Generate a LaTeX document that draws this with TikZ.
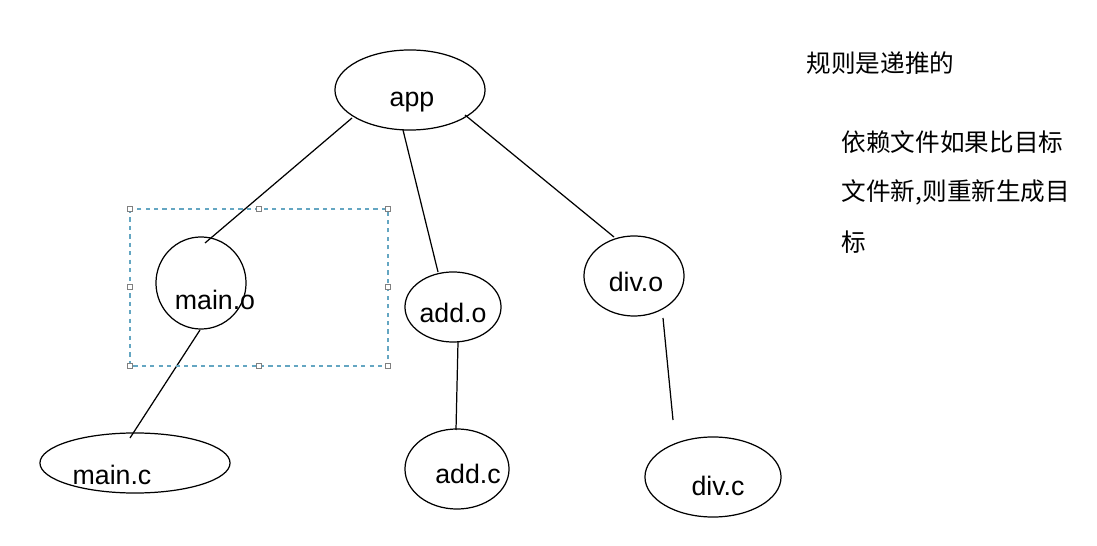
\documentclass[tikz,border=0pt]{standalone}
\usepackage{fontspec}
\setmainfont{Liberation Sans}
\newfontfamily\cjk{Noto Sans CJK SC}
\usetikzlibrary{shapes.geometric}
\begin{document}
\begin{tikzpicture}[x=0.01cm,y=-0.01cm,
  el/.style={draw,ellipse,inner sep=0pt,line width=0.35pt},
  lbl/.style={font=\fontsize{7.6}{9}\selectfont},
  cn/.style={font=\cjk\fontsize{7}{8}\selectfont,anchor=west,inner sep=0pt},
  hd/.style={draw=gray,fill=white,minimum size=1.4pt,inner sep=0pt,line width=0.2pt}]
\useasboundingbox[fill=white] (0,0) rectangle (1097,546);
\node[el,minimum width=1.5cm,minimum height=0.8cm] (app) at (410,90) {};
\node[el,minimum width=0.9cm,minimum height=0.92cm] (mo) at (201,283) {};
\node[el,minimum width=0.96cm,minimum height=0.7cm] (ao) at (453,307) {};
\node[el,minimum width=1.0cm,minimum height=0.8cm] (do) at (634,276) {};
\node[el,minimum width=1.9cm,minimum height=0.6cm] (mc) at (135,463) {};
\node[el,minimum width=1.04cm,minimum height=0.8cm] (ac) at (457,469) {};
\node[el,minimum width=1.36cm,minimum height=0.8cm] (dc) at (713,477) {};
\node[lbl] (tapp) at (412,102) {app};
\node[lbl] (tmo) at (215,300) {main.o};
\node[lbl] (tao) at (453,313) {add.o};
\node[lbl] (tdo) at (636,282) {div.o};
\node[lbl] (tmc) at (112,475) {main.c};
\node[lbl] (tac) at (468,474) {add.c};
\node[lbl] (tdc) at (718,486) {div.c};
\coordinate (a1) at (352,118); \coordinate (m1) at (205,243);
\coordinate (a2) at (403,130); \coordinate (o2) at (438,272);
\coordinate (a3) at (465,115); \coordinate (d3) at (614,237);
\coordinate (m4) at (200,330); \coordinate (c4) at (130,438);
\coordinate (o5) at (458,342); \coordinate (c5) at (456,430);
\coordinate (o6) at (663,318); \coordinate (c6) at (673,420);
\draw[line width=0.35pt] (a1)--(m1) (a2)--(o2) (a3)--(d3) (m4)--(c4) (o5)--(c5) (o6)--(c6);
\draw[dash pattern=on 1.2pt off 1.2pt,draw=cyan!50!gray,line width=0.3pt] (130,209) rectangle (388,366);
\foreach \x in {130,259,388}{\node[hd] at (\x,209){}; \node[hd] at (\x,366){};}
\node[hd] at (130,287){}; \node[hd] at (388,287){};
\node[cn] (r1) at (806,63) {规则是递推的};
\node[cn] (r2) at (841,142) {依赖文件如果比目标};
\node[cn] (r3) at (841,192) {文件新,则重新生成目};
\node[cn] (r4) at (841,242) {标};
\end{tikzpicture}
\end{document}
